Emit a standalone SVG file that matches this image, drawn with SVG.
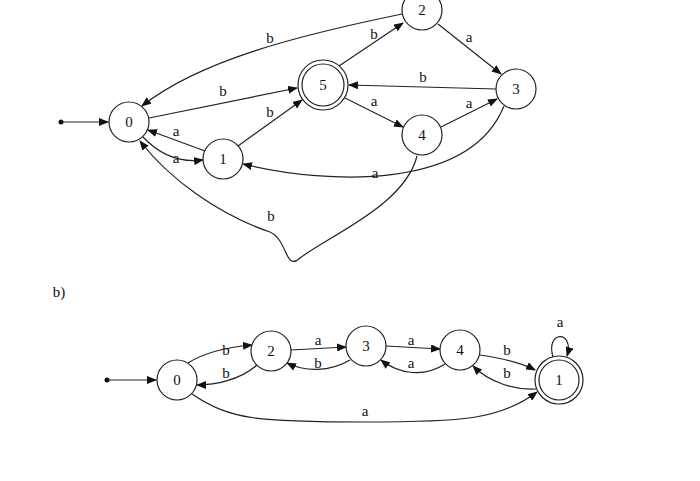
<svg xmlns="http://www.w3.org/2000/svg" width="700" height="481" viewBox="0 0 700 481">
<style>
.n{fill:#fff;stroke:#222;stroke-width:1.2}
.e{fill:none;stroke:#222;stroke-width:1.2;marker-end:url(#ah)}
text{font-family:"Liberation Serif",serif;font-size:15px;fill:#111;text-anchor:middle}
</style>
<defs><marker id="ah" markerWidth="10" markerHeight="8" refX="9" refY="4" orient="auto" markerUnits="userSpaceOnUse"><path d="M0,0L10,4L0,8z" fill="#111"/></marker></defs>
<rect width="700" height="481" fill="#fff"/>
<g id="connectors">
<circle cx="61" cy="122" r="2.5" fill="#111"/>
<path class="e" d="M63,122H108"/>
<path class="e" d="M402,14C300,35 200,60 142,106"/>
<path class="e" d="M149,118L297,88"/>
<path class="e" d="M238,146L302,100"/>
<path class="e" d="M205,151L148,130"/>
<path class="e" d="M143,137C160,155 180,163 203,160"/>
<path class="e" d="M339,66L403,23"/>
<path class="e" d="M438,24L501,74"/>
<path class="e" d="M496,89L349,85"/>
<path class="e" d="M345,98L403,127"/>
<path class="e" d="M441,127L497,99"/>
<path class="e" d="M504,106C470,190 330,185 243,164"/>
<path class="e" d="M417,156C405,205 330,235 300,258C285,272 288,240 270,232C220,215 170,180 140,141"/>
<circle cx="107" cy="380" r="2.5" fill="#111"/>
<path class="e" d="M109,380H156"/>
<path class="e" d="M188,363C205,352 230,347 252,345"/>
<path class="e" d="M257,365C240,380 215,385 197,385"/>
<path class="e" d="M291,350L346,347"/>
<path class="e" d="M350,360C330,372 305,372 287,363"/>
<path class="e" d="M386,346L440,349"/>
<path class="e" d="M445,364C425,377 400,375 381,360"/>
<path class="e" d="M480,355C500,358 520,362 535,370"/>
<path class="e" d="M536,389C515,390 490,383 473,366"/>
<path class="e" d="M192,394C230,420 260,422 365,422C460,422 500,420 537,392"/>
<path class="e" d="M553,357C545,330 575,330 567,356"/>
</g>
<g id="labels">
<text x="270" y="43">b</text><text x="223" y="96">b</text><text x="270" y="117">b</text>
<text x="176" y="136">a</text><text x="176" y="163">a</text><text x="374" y="39">b</text>
<text x="469" y="42">a</text><text x="423" y="82">b</text><text x="374" y="106">a</text>
<text x="469" y="108">a</text><text x="375" y="178">a</text><text x="271" y="221">b</text>
<text x="59" y="297">b)</text>
<text x="226" y="355">b</text><text x="226" y="378">b</text><text x="318" y="345">a</text>
<text x="318" y="368">b</text><text x="411" y="345">a</text><text x="411" y="368">a</text>
<text x="507" y="355">b</text><text x="507" y="378">b</text><text x="365" y="416">a</text>
<text x="560" y="327">a</text>
</g>
<g id="n0"><circle class="n" cx="129" cy="122" r="20"/><text x="129" y="127">0</text></g>
<g id="n1"><circle class="n" cx="223" cy="159" r="20"/><text x="223" y="164">1</text></g>
<g id="n5"><circle class="n" cx="323" cy="85" r="25"/><circle class="n" cx="323" cy="85" r="21"/><text x="323" y="90">5</text></g>
<g id="n2"><circle class="n" cx="422" cy="10" r="20"/><text x="422" y="15">2</text></g>
<g id="n3"><circle class="n" cx="516" cy="89" r="20"/><text x="516" y="94">3</text></g>
<g id="n4"><circle class="n" cx="422" cy="135" r="20"/><text x="422" y="140">4</text></g>
<g id="m0"><circle class="n" cx="177" cy="380" r="20"/><text x="177" y="385">0</text></g>
<g id="m2"><circle class="n" cx="271" cy="351" r="20"/><text x="271" y="356">2</text></g>
<g id="m3"><circle class="n" cx="366" cy="346" r="20"/><text x="366" y="351">3</text></g>
<g id="m4"><circle class="n" cx="460" cy="350" r="20"/><text x="460" y="355">4</text></g>
<g id="m1"><circle class="n" cx="559" cy="380" r="24"/><circle class="n" cx="559" cy="380" r="20"/><text x="559" y="385">1</text></g>
</svg>
